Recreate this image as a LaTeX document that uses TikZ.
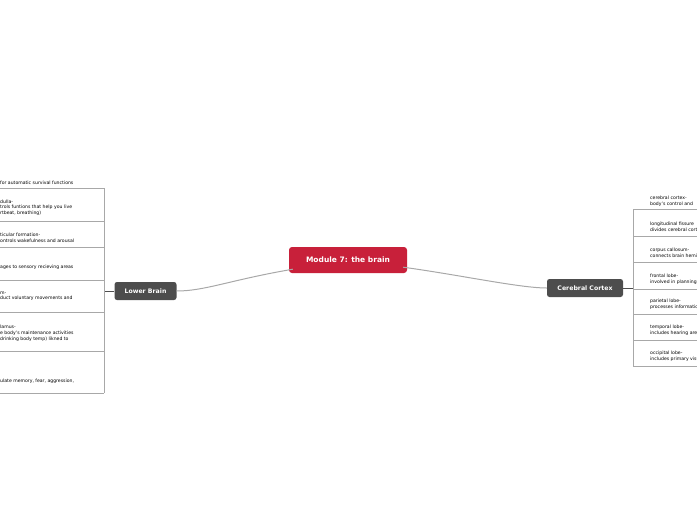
\documentclass[tikz,border=0pt]{standalone}
\usepackage{fontspec}
\setmainfont{DejaVu Sans}
\definecolor{topic}{HTML}{4D4D4D}
\definecolor{central}{HTML}{C8203A}
\definecolor{ln}{HTML}{A8A8A8}
\begin{document}
\begin{tikzpicture}[x=1pt,y=-1pt,
  txt/.style={anchor=west,inner sep=0,font=\fontsize{4.6}{5.6}\selectfont,align=left},
  box/.style={draw=ln,line width=0.6pt},
  topicnode/.style={rounded corners=2.5pt,fill=topic,text=white,font=\fontsize{6.2}{7}\selectfont\bfseries,inner sep=0,minimum height=18pt},
  conn/.style={draw=ln,line width=1pt}]
\path[use as bounding box] (0,0) rectangle (697,520);
\clip (0,0) rectangle (697,520);
\node[rounded corners=3pt,fill=central,text=white,font=\fontsize{7.5}{9}\selectfont\bfseries,minimum width=118pt,minimum height=26pt,inner sep=0] (c) at (348,260) {Module 7: the brain};
\node[topicnode,minimum width=62pt] (lb) at (145.5,291) {Lower Brain};
\node[topicnode,minimum width=76pt] (cc) at (585,288) {Cerebral Cortex};
\draw[conn] (c.south west) ++(4,-4) coordinate (c1) .. controls (230,280) and (205,291) .. (lb.east);
\draw[conn] (c.south east) ++(-4,-6) coordinate (c2) .. controls (460,275) and (520,288) .. (cc.west);
% left branch
\coordinate (lj) at (104,291);
\draw[topic,line width=1pt] (lb.west) -- (lj);
\foreach \y in {188,221,247,280,312,351,393} \draw[box] (-5,\y) -- (104,\y);
\draw[box] (104,188) -- (104,393);
\node[txt] (l1) at (0,183) {for automatic survival functions};
\node[txt] (l2) at (0,207.5) {dulla-\\trols funtions that help you live\\rtbeat, breathing)};
\node[txt] (l3) at (0,238) {ticular formation-\\ontrols wakefulness and arousal};
\node[txt] (l4) at (0,267) {ages to sensory recieving areas};
\node[txt] (l5) at (0,296) {m-\\duct voluntary movements and};
\node[txt] (l6) at (0,335.5) {lamus-\\e body's maintenance activities\\drinking body temp) likned to\\};
\node[txt] (l7) at (0,381) {ulate memory, fear, aggression,};
% right branch
\coordinate (rj) at (633,288);
\draw[topic,line width=1pt] (cc.east) -- (rj);
\foreach \y in {209,236,262,289,314,340,366} \draw[box] (633,\y) -- (702,\y);
\draw[box] (633,209) -- (633,366);
\node[txt] (r1) at (650,201) {cerebral cortex-\\body's control and};
\node[txt] (r2) at (650,227) {longitudinal fissure\\divides cerebral cortex};
\node[txt] (r3) at (650,253.5) {corpus callosum-\\connects brain hemispheres};
\node[txt] (r4) at (650,279) {frontal lobe-\\involved in planning};
\node[txt] (r5) at (650,304.5) {parietal lobe-\\processes information};
\node[txt] (r6) at (650,330) {temporal lobe-\\includes hearing areas};
\node[txt] (r7) at (650,356) {occipital lobe-\\includes primary visual};
\end{tikzpicture}
\end{document}
